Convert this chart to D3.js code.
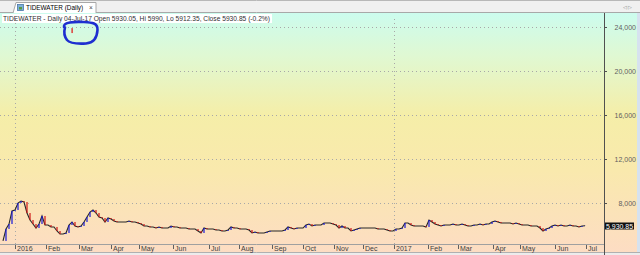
<!DOCTYPE html>
<html><head><meta charset="utf-8">
<script src="https://cdn.jsdelivr.net/npm/d3@7/dist/d3.min.js"></script>
<style>html,body{margin:0;padding:0;background:#fff;overflow:hidden}svg{display:block}</style>
</head><body>
<svg id="c" width="640" height="255"></svg>
<script>
// ---- DATA ----
const title = "TIDEWATER - Daily 04-Jul-17 Open 5930.05, Hi 5990, Lo 5912.35, Close 5930.85 (-0.2%)";
const tabLabel = "TIDEWATER (Daily)";
// closing prices, one sample per ~2 trading days (Dec-2015 .. 04-Jul-2017)
const closes = [
 4550,5640,6090,7275,7365,8000,8180,8090,7090,6455,
 6090,5725,6090,6820,6000,6000,5820,5820,5455,5180,
 5180,5275,6000,6275,5910,5820,5910,6275,6725,7180,
 7365,7090,6725,6635,6275,6635,6545,6365,6275,6275,
 6275,6275,6365,6275,6275,6180,6090,5910,5910,5820,
 5820,5725,5820,5725,5725,5725,5910,5820,5820,5725,
 5725,5725,5635,5635,5635,5455,5275,5725,5635,5635,
 5635,5545,5545,5455,5455,5545,5820,5725,5725,5635,
 5635,5635,5545,5275,5365,5275,5275,5275,5365,5455,
 5455,5455,5455,5455,5545,5820,5725,5635,5725,5725,
 5725,6000,6090,5910,6000,6000,6000,6180,6180,6180,
 6090,6000,5725,5910,5725,5725,5455,5545,5635,5725,
 5725,5725,5725,5725,5725,5635,5635,5635,5545,5455,
 5455,5635,5635,5725,6180,6180,6000,5910,5910,5910,
 5910,5820,6455,6275,6090,6000,5910,6000,6000,6000,
 6090,6000,6000,6090,6000,5910,5910,6000,6000,6090,
 6000,6090,6090,6275,6365,6275,6180,6180,6180,6180,
 6090,6180,6090,6000,6000,6000,5910,5910,5910,5725,
 5455,5635,5725,5910,6000,5910,6000,5910,5910,6000,
 5910,5910,5820,5910,5930.85
];
// erroneous spike bar (circled in the reference)
const spikeIdx = [23];
const spikeHi = [23900];
const spikeLo = [23450];
const monthLabels = ["2016","Feb","Mar","Apr","May","Jun","Jul","Aug","Sep","Oct","Nov","Dec","2017","Feb","Mar","Apr","May","Jun","Jul"];
const monthPos = [4,14.3,25.3,36,45.2,56.8,68.5,78.8,89.6,100.1,110.3,120.1,130.3,141.5,151.5,163.2,172.3,184,194.3];
const yearPos = [4,130.3];
const yTicks = [8000,12000,16000,20000,24000];
const lastClose = 5930.85;

// ---- DRAW ----
const svg = d3.select("#c");
const W = 640, H = 255;
const plotL = 0, plotR = 604, plotT = 13, plotB = 244;
const x = d3.scaleLinear().domain([0, closes.length - 1]).range([3, 585]);
const y = d3.scaleLinear().domain([8000, 24000]).range([203, 27]);
const font = "'Liberation Sans', Arial, sans-serif";

const defs = svg.append("defs");
const g = defs.append("linearGradient").attr("id","bg").attr("x1",0).attr("y1",0).attr("x2",0).attr("y2",1);
[[0,"#ccfcee"],[0.18,"#e0f8d2"],[0.42,"#f5eea8"],[0.65,"#f9e9ad"],[1,"#fddcc4"]].forEach(s=>g.append("stop").attr("offset",s[0]).attr("stop-color",s[1]));

svg.append("rect").attr("x",0).attr("y",plotT).attr("width",W).attr("height",H-plotT).attr("fill","url(#bg)");

// top tab bar
svg.append("rect").attr("x",0).attr("y",0).attr("width",W).attr("height",plotT).attr("fill","#f0f0f0");
svg.append("line").attr("x1",0).attr("x2",W).attr("y1",0.5).attr("y2",0.5).attr("stroke","#b8b8b8");
svg.append("line").attr("x1",0).attr("x2",W).attr("y1",12.5).attr("y2",12.5).attr("stroke","#a8a8a8");
svg.append("path").attr("d","M13,13 L16,2.5 L96,2.5 L96,13").attr("fill","#ffffff").attr("stroke","#a8a8a8");
svg.append("rect").attr("x",17.5).attr("y",4.5).attr("width",6).attr("height",6).attr("fill","#7fb0d8").attr("stroke","#4a78a8").attr("stroke-width",0.8);
svg.append("rect").attr("x",19).attr("y",7).attr("width",3).attr("height",2.5).attr("fill","#5a9a40");
svg.append("text").attr("x",26).attr("y",10).attr("font-family",font).attr("font-size",6.4).attr("fill","#000000").text(tabLabel);
svg.append("text").attr("x",89).attr("y",9.5).attr("font-family",font).attr("font-size",6.5).attr("fill","#404040").text("×");
svg.append("text").attr("x",623).attr("y",8.5).attr("font-family",font).attr("font-size",5).attr("fill","#808080").text("◁ ▷");
svg.append("rect").attr("x",637).attr("y",plotT).attr("width",3).attr("height",H-plotT).attr("fill","#d6e2ef");

// grid
svg.append("g").selectAll("line").data(yTicks).join("line")
  .attr("x1",plotL).attr("x2",plotR-3).attr("y1",d=>Math.round(y(d))+0.5).attr("y2",d=>Math.round(y(d))+0.5)
  .attr("stroke","#a8a8a8").attr("stroke-dasharray","1,3");
svg.append("g").selectAll("line").data(yearPos).join("line")
  .attr("x1",d=>Math.round(x(d))+0.5).attr("x2",d=>Math.round(x(d))+0.5).attr("y1",plotT+6).attr("y2",plotB)
  .attr("stroke","#a8a8a8").attr("stroke-dasharray","1,3");

// bottom axis
svg.append("line").attr("x1",0).attr("x2",plotR).attr("y1",plotB+0.5).attr("y2",plotB+0.5).attr("stroke","#a0a0a0");
svg.append("rect").attr("x",0).attr("y",253).attr("width",W).attr("height",2).attr("fill","#ececec");
svg.append("line").attr("x1",0).attr("x2",W).attr("y1",252.5).attr("y2",252.5).attr("stroke","#b0b0b0");
const xa = svg.append("g");
xa.selectAll("line").data(monthPos).join("line")
  .attr("x1",d=>Math.round(x(d))+0.5).attr("x2",d=>Math.round(x(d))+0.5).attr("y1",245).attr("y2",249).attr("stroke","#606060");
xa.selectAll("text").data(monthLabels).join("text")
  .attr("x",(d,i)=>Math.round(x(monthPos[i]))+2).attr("y",251).attr("font-family",font).attr("font-size",7).attr("fill","#404040").text(d=>d);

// right axis
svg.append("line").attr("x1",plotR+0.5).attr("x2",plotR+0.5).attr("y1",plotT).attr("y2",H).attr("stroke","#505050");
const ya = svg.append("g");
ya.selectAll("line").data(yTicks).join("line")
  .attr("x1",plotR).attr("x2",plotR+3).attr("y1",d=>Math.round(y(d))+0.5).attr("y2",d=>Math.round(y(d))+0.5).attr("stroke","#505050");
ya.selectAll("text").data(yTicks).join("text")
  .attr("x",636).attr("y",d=>y(d)+2.5).attr("text-anchor","end").attr("font-family",font).attr("font-size",7).attr("fill","#606060")
  .text(d=>d3.format(",")(d));
const ly = y(lastClose);
svg.append("rect").attr("x",605).attr("y",Math.round(ly)-3.5).attr("width",29).attr("height",7).attr("fill","#101010");
svg.append("text").attr("x",619.5).attr("y",Math.round(ly)+2.5).attr("text-anchor","middle").attr("font-family",font).attr("font-size",7).attr("fill","#ffffff")
  .attr("textLength",27).attr("lengthAdjust","spacingAndGlyphs").text(d3.format(",.2f")(lastClose));

// price line + bodies
const line = d3.line().x((d,i)=>x(i)).y(d=>y(d));
svg.append("path").datum(closes).attr("d",line).attr("fill","none").attr("stroke","#262626").attr("stroke-width",1.1);
svg.append("g").selectAll("rect").data(closes.slice(1)).join("rect")
  .attr("x",(d,i)=>x(i+1)-0.6).attr("width",1.2)
  .attr("y",(d,i)=>Math.min(y(d),y(closes[i])))
  .attr("height",(d,i)=>Math.abs(y(d)-y(closes[i])))
  .attr("fill",(d,i)=>d>=closes[i]?"#1a1ad8":"#d01818");
svg.append("g").selectAll("rect").data(spikeIdx).join("rect")
  .attr("x",d=>x(d)-0.5).attr("width",1.2)
  .attr("y",(d,i)=>y(spikeHi[i])).attr("height",(d,i)=>y(spikeLo[i])-y(spikeHi[i]))
  .attr("fill","#e01010");

// title
const tt = svg.append("text").attr("x",3).attr("y",21).attr("font-family",font).attr("font-size",7).attr("fill","#303030")
  .attr("textLength",267).attr("lengthAdjust","spacingAndGlyphs").text(title);
svg.insert("rect","text").attr("x",2).attr("y",14).attr("width",270).attr("height",9).attr("fill","#ffffff");
tt.raise();

// hand-drawn annotation circle
svg.append("path")
  .attr("d","M64,27 C63,22 74,21.5 84,22 C92,22.5 98,23 97.5,30 C97,38 93,43 86,43.5 C78,44 70,43.5 67,40 C64,36 64,31 65,27.5")
  .attr("fill","none").attr("stroke","#1e2ed0").attr("stroke-width",2.6).attr("stroke-linecap","round");
</script>
</body></html>
